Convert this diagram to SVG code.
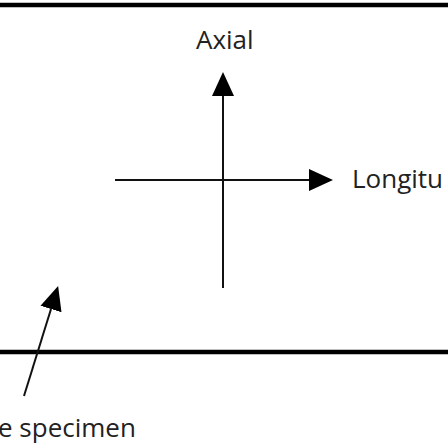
<svg xmlns="http://www.w3.org/2000/svg" width="448" height="448" viewBox="0 0 448 448">
<style>
.t{font-family:"Open Sans","Liberation Sans",sans-serif;font-size:26px;fill:#222}
.ln{stroke:#111;stroke-width:2;fill:none}
.thick{stroke:#000;stroke-width:4.5}
</style>
<defs>
<marker id="ah" markerWidth="24" markerHeight="24" viewBox="0 0 24 24" refX="0" refY="12" orient="auto" markerUnits="userSpaceOnUse">
<path d="M0,1 L24,12 L0,23 Z" fill="#000"/>
</marker>
</defs>
<rect width="448" height="448" fill="#fff"/>
<g id="plates">
<line class="thick" x1="0" y1="5" x2="448" y2="5"/>
<line class="thick" x1="0" y1="352" x2="448" y2="352"/>
</g>
<g id="connectors">
<line class="ln" x1="223" y1="288" x2="223" y2="96" marker-end="url(#ah)"/>
<line class="ln" x1="115" y1="180" x2="309" y2="180" marker-end="url(#ah)"/>
<line class="ln" x1="24" y1="396" x2="51" y2="309" marker-end="url(#ah)"/>
</g>
<g id="axial"><text class="t" x="196" y="49">Axial</text></g>
<g id="longitudinal"><text class="t" x="352" y="188">Longitu</text></g>
<g id="specimen"><text class="t" x="-2" y="437">e specimen</text></g>
</svg>
